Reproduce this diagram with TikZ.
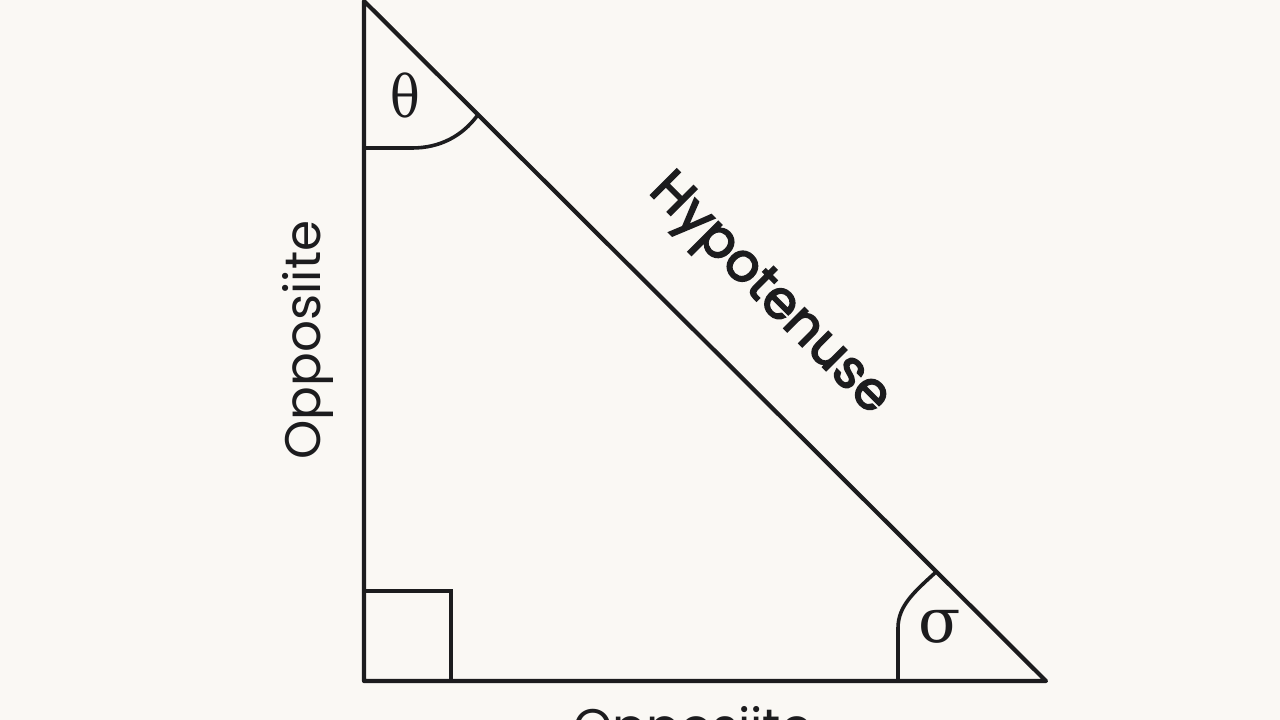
\documentclass[tikz,border=0pt]{standalone}
\usepackage{fontspec}
\setmainfont{Poppins}
\newfontfamily\hypfont[FakeBold=3]{Poppins}
\newfontfamily\grkfont{DejaVu Serif}
\definecolor{bg}{RGB}{250,248,244}
\definecolor{ink}{RGB}{28,28,30}
\begin{document}
\begin{tikzpicture}[x=1pt,y=-1pt,
  edge/.style={draw=ink,line width=4.2pt,line join=round,line cap=round},
  anglemark/.style={draw=ink,line width=3.6pt},
  lbl/.style={text=ink,inner sep=0pt}]
\useasboundingbox (0,0) rectangle (1280,720);
\fill[bg] (0,0) rectangle (1280,720);
\clip (0,0) rectangle (1280,720);
\coordinate (A) at (364,1);
\coordinate (B) at (364,681);
\coordinate (C) at (1046,681);
\draw[edge] (A) -- (B) -- (C) -- cycle;
% right angle
\coordinate (R1) at (364,591);
\coordinate (R2) at (451,591);
\coordinate (R3) at (451,681);
\draw[anglemark] (R1) -- (R2) -- (R3);
% theta arc
\coordinate (T1) at (364,148);
\coordinate (T2) at (477,116);
\draw[anglemark] (T1) -- (412,148) .. controls (440,148) and (462,136) .. (T2);
% bottom right arc
\coordinate (S1) at (898,681);
\coordinate (S2) at (936,572);
\draw[anglemark] (S1) -- (898,628) .. controls (898,606) and (914,592) .. (S2);
\node[lbl,font=\fontsize{58}{58}\selectfont\grkfont,xscale=0.85] (th) at (405,95) {θ};
\node[lbl,font=\fontsize{62}{62}\selectfont\grkfont] (sg) at (940,627) {σ};
\node[lbl,rotate=-45,font=\fontsize{53}{53}\selectfont\hypfont] (hyp) at (768,296) {Hypotenuse};
\node[lbl,rotate=90,font=\fontsize{50}{50}\selectfont] (opp) at (308,340) {Opposiite};
\node[lbl,anchor=north west,font=\fontsize{50}{50}\selectfont] (adj) at (573,706) {Opposiite};
\end{tikzpicture}
\end{document}
